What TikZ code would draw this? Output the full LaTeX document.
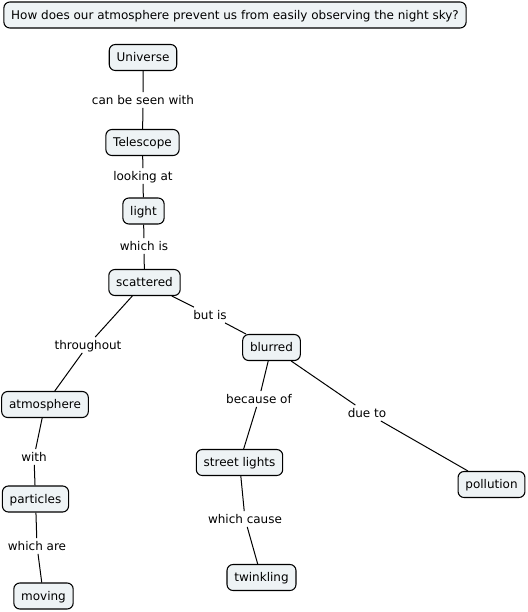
\documentclass[tikz,border=0pt]{standalone}
\usepackage{fontspec}
\setmainfont{DejaVu Sans}
\definecolor{nodefill}{HTML}{EEF3F5}
\begin{document}
\begin{tikzpicture}[x=0.75pt,y=-0.75pt,
  concept/.style={draw=black,line width=0.8pt,fill=nodefill,rounded corners=4.5pt,
    font=\fontsize{9}{11}\selectfont,inner xsep=5.5pt,inner ysep=0pt,
    minimum height=19.5pt,text height=8pt,text depth=1.5pt},
  linklabel/.style={fill=white,font=\fontsize{9}{11}\selectfont,inner sep=1pt,
    text height=8pt,text depth=1.5pt},
  link/.style={draw=black,line width=0.75pt}]
\useasboundingbox (0,0) rectangle (528,612);
% concepts
\node[concept] (q) at (235,15) {How does our atmosphere prevent us from easily observing the night sky?};
\node[concept] (universe) at (143,57.5) {Universe};
\node[concept] (telescope) at (142.5,142.5) {Telescope};
\node[concept] (light) at (143.5,211) {light};
\node[concept] (scattered) at (144.5,282.5) {scattered};
\node[concept] (blurred) at (271.5,347.5) {blurred};
\node[concept] (atmosphere) at (45,404.5) {atmosphere};
\node[concept] (particles) at (35.5,499) {particles};
\node[concept] (moving) at (43.5,596) {moving};
\node[concept] (streetlights) at (239.5,462.5) {street lights};
\node[concept] (twinkling) at (261.5,577.5) {twinkling};
\node[concept] (pollution) at (491.5,484.5) {pollution};
% link labels
\node[linklabel] (l1) at (143,100) {can be seen with};
\node[linklabel] (l2) at (143,176) {looking at};
\node[linklabel] (l3) at (144,246) {which is};
\node[linklabel] (l4) at (88,345) {throughout};
\node[linklabel] (l5) at (210,315) {but is};
\node[linklabel] (l6) at (259,399) {because of};
\node[linklabel] (l7) at (367,413) {due to};
\node[linklabel] (l8) at (34,457) {with};
\node[linklabel] (l9) at (37,546) {which are};
\node[linklabel] (l10) at (245,519) {which cause};
% connectors
\draw[link] (universe) -- (l1) -- (telescope);
\draw[link] (telescope) -- (l2) -- (light);
\draw[link] (light) -- (l3) -- (scattered);
\draw[link] (scattered) -- (l4) -- (atmosphere);
\draw[link] (scattered) -- (l5) -- (blurred);
\draw[link] (blurred) -- (l6) -- (streetlights);
\draw[link] (blurred) -- (l7) -- (pollution);
\draw[link] (atmosphere) -- (l8) -- (particles);
\draw[link] (particles) -- (l9) -- (moving);
\draw[link] (streetlights) -- (l10) -- (twinkling);
\end{tikzpicture}
\end{document}
